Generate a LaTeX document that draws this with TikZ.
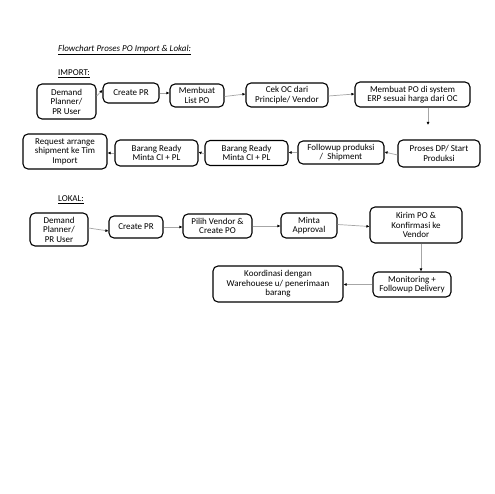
\documentclass[tikz,border=0pt]{standalone}
\usepackage{fontspec}
\setmainfont{Carlito}
\usetikzlibrary{arrows.meta}
\begin{document}
\begin{tikzpicture}[x=1pt,y=-1pt,
  box/.style={draw=black,line width=1.1pt,rounded corners=5pt,align=center,inner sep=0pt,
    font=\fontsize{9}{9.5}\selectfont},
  conn/.style={draw=gray!70,line width=0.7pt,-{Latex[length=3pt,width=3pt,black]}},
  lbl/.style={anchor=west,inner sep=0pt,font=\fontsize{9}{10}\selectfont}]
\useasboundingbox (0,0) rectangle (494,494);
\fill[white] (0,0) rectangle (494,494);
% titles
\node[lbl] (title) at (58,50) {\textit{\underline{Flowchart Proses PO Import \& Lokal:}}};
\node[lbl] (imp) at (58,74) {\underline{IMPORT:}};
\node[lbl] (lok) at (58,200) {\underline{LOKAL:}};
% IMPORT row 1
\node[box,minimum width=59pt,minimum height=35pt] (i1) at (66.5,101.5) {Demand\\Planner/\\PR User};
\node[box,minimum width=56pt,minimum height=20pt] (i2) at (131,93) {Create PR};
\node[box,minimum width=54pt,minimum height=23pt] (i3) at (197,95.5) {Membuat\\List PO};
\node[box,minimum width=82pt,minimum height=24pt] (i4) at (287,95) {Cek OC dari\\Principle/ Vendor};
\node[box,minimum width=115pt,minimum height=25pt] (i5) at (412.5,94.5) {Membuat PO di system\\ERP sesuai harga dari OC};
% IMPORT row 2
\node[box,minimum width=82pt,minimum height=27pt] (i6) at (439,153.5) {Proses DP/ Start\\Produksi};
\node[box,minimum width=86pt,minimum height=23pt] (i7) at (341,152.5) {Followup produksi\\/\ \ Shipment};
\node[box,minimum width=83pt,minimum height=25pt] (i8) at (246.5,153) {Barang Ready\\Minta CI + PL};
\node[box,minimum width=83pt,minimum height=26pt] (i9) at (156.5,153) {Barang Ready\\Minta CI + PL};
\node[box,minimum width=84pt,minimum height=35pt] (i10) at (65,151.5) {Request arrange\\shipment ke Tim\\Import};
% LOKAL
\node[box,minimum width=58pt,minimum height=33pt] (l1) at (59,229.5) {Demand\\Planner/\\PR User};
\node[box,minimum width=54pt,minimum height=22pt] (l2) at (136,227) {Create PR};
\node[box,minimum width=69pt,minimum height=24pt] (l3) at (217.5,226) {Pilih Vendor \&\\Create PO};
\node[box,minimum width=56pt,minimum height=25pt] (l4) at (309,225.5) {Minta\\Approval};
\node[box,minimum width=92pt,minimum height=36pt] (l5) at (416,225) {Kirim PO \&\\Konfirmasi ke\\Vendor};
\node[box,minimum width=78pt,minimum height=25pt] (l6) at (412,284.5) {Monitoring +\\Followup Delivery};
\node[box,minimum width=130pt,minimum height=36pt] (l7) at (278,284) {Koordinasi dengan\\Warehouese u/ penerimaan\\barang};
% connectors IMPORT
\draw[conn] (i1.east |- i2.west) ++(0,3) -- ([yshift=3pt]i2.west);
\draw[conn] (i2.east) -- (i3.west |- i2.east);
\draw[conn] (i3.east) ++(0,1) -- ([yshift=1pt]i4.west);
\draw[conn] (i4.east) ++(0,1) -- ([yshift=1pt]i5.west |- i4.east);
\coordinate (dn) at (428,125);
\draw[conn] (i5.south -| dn) -- (dn);
\draw[conn] (i6.west) ++(0,1.5) -- ([yshift=1.5pt]i7.east |- i6.west);
\draw[conn] (i7.west) -- (i8.east |- i7.west);
\draw[conn] (i8.west) ++(0,1) -- ([yshift=1pt]i9.east |- i8.west);
\draw[conn] (i9.west) -- (i10.east |- i9.west);
% connectors LOKAL
\draw[conn] (l1.east) ++(0,-1.5) -- ([yshift=-1.5pt]l2.west |- l1.east);
\draw[conn] (l2.east) -- (l3.west |- l2.east);
\draw[conn] (l3.east) -- (l4.west |- l3.east);
\draw[conn] (l4.east) ++(0,-1) -- ([yshift=-1pt]l5.west |- l4.east);
\draw[conn] (l5.south -| 421,0) -- (l6.north -| 421,0);
\draw[conn] (l6.west) -- (l7.east |- l6.west);
\end{tikzpicture}
\end{document}
